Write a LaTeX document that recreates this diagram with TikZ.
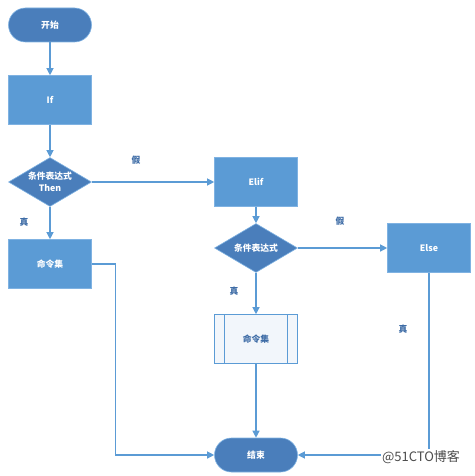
\documentclass[tikz,border=0pt]{standalone}
\usepackage{fontspec}
\newfontfamily\cjk{Noto Sans CJK SC}
\usetikzlibrary{shapes.geometric,arrows.meta}
\definecolor{boxblue}{HTML}{5B9BD5}
\definecolor{boxedge}{HTML}{7FB2E2}
\definecolor{darkblue}{HTML}{4A7EBB}
\definecolor{lineblue}{HTML}{5B9BD5}
\definecolor{labblue}{HTML}{3E6CA6}
\definecolor{predfill}{HTML}{F2F6FB}
\tikzset{
  every node/.style={font=\cjk\bfseries\fontsize{8.8pt}{12.5pt}\selectfont},
  term/.style={rectangle, rounded corners=17pt, fill=darkblue, draw=boxedge, line width=0.6pt,
    minimum width=83pt, minimum height=34pt, text=white, inner sep=0pt},
  proc/.style={rectangle, fill=boxblue, draw=boxedge, line width=0.6pt,
    minimum width=83pt, minimum height=49pt, text=white, inner sep=0pt},
  dec/.style={diamond, aspect=1.7, fill=darkblue, draw=boxedge, line width=0.6pt,
    minimum width=83pt, minimum height=49pt, text=white, inner sep=0pt, align=center},
  pred/.style={rectangle, fill=predfill, draw=lineblue, line width=0.6pt,
    minimum width=83pt, minimum height=49pt, text=labblue, inner sep=0pt,
    path picture={
      \draw[lineblue, line width=0.6pt] ([xshift=10pt]path picture bounding box.north west) -- ([xshift=10pt]path picture bounding box.south west);
      \draw[lineblue, line width=0.6pt] ([xshift=-10pt]path picture bounding box.north east) -- ([xshift=-10pt]path picture bounding box.south east);
    }},
  conn/.style={draw=lineblue, line width=1.2pt, -{Triangle[length=7pt,width=7pt]}},
  lab/.style={text=labblue},
  wm/.style={text=black!70, fill=white, inner sep=1pt, font=\cjk\fontsize{13pt}{15pt}\selectfont}
}
\begin{document}
\begin{tikzpicture}[x=1pt,y=-1pt]
\useasboundingbox (0,0) rectangle (474,476);
\node[term] (start) at (50,25) {开始};
\node[proc] (if) at (50,100) {If};
\node[dec] (d1) at (50,182) {条件表达式\\Then};
\node[proc] (cmd1) at (50,264) {命令集};
\node[proc] (elif) at (256,182) {Elif};
\node[dec] (d2) at (256,248) {条件表达式};
\node[proc] (else) at (429,248) {Else};
\node[pred] (cmd2) at (256,339) {命令集};
\node[term] (end) at (256,455) {结束};

\draw[conn] (start) -- (if);
\draw[conn] (if) -- (d1);
\draw[conn] (d1) -- (cmd1);
\draw[conn] (d1) -- (elif);
\draw[conn] (elif) -- (d2);
\draw[conn] (d2) -- (else);
\draw[conn] (d2) -- (cmd2);
\draw[conn] (cmd2) -- (end);
\draw[conn] (cmd1.east) -- ++(24,0) |- (end.west);
\draw[conn] (else.south) |- (end.east);

\node[lab] (l1) at (136,160) {假};
\node[lab] (l2) at (24,222) {真};
\node[lab] (l3) at (340,221) {假};
\node[lab] (l4) at (234,291) {真};
\node[lab] (l5) at (403,329) {真};

\node[wm] (wm) at (421,457) {@51CTO博客};
\end{tikzpicture}
\end{document}
